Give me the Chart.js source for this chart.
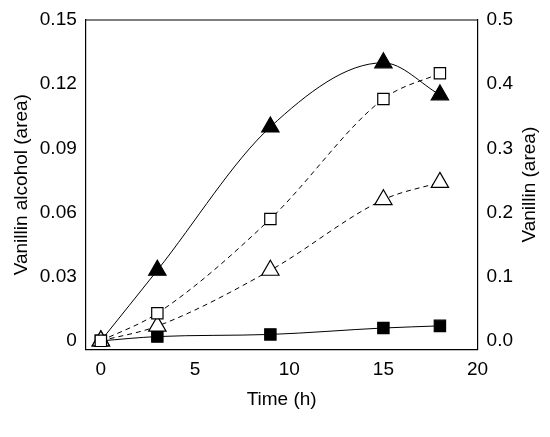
<!DOCTYPE html><html><head><script src="https://cdn.jsdelivr.net/npm/chart.js"></script>
<style>body{margin:0;background:#fff}#w{width:550px;height:437px}</style></head><body><div id="w"><canvas id="c"></canvas></div>
<script>
const time=[0,3,9,15,18];
const alcFilledTri=[0,0.033,0.100,0.130,0.115];
const alcFilledSq=[0,0.002,0.003,0.006,0.007];
const vanOpenSq=[0,0.043,0.19,0.377,0.417];
const vanOpenTri=[0,0.023,0.11,0.22,0.247];
const leftTicks=[0,0.03,0.06,0.09,0.12,0.15];
const rightTicks=[0,0.1,0.2,0.3,0.4,0.5];
const xy=a=>a.map((v,i)=>({x:time[i],y:v}));
const F='Arial, "Liberation Sans", sans-serif';
function ds(d,axis,style,fill,dash){return{data:xy(d),yAxisID:axis,pointStyle:style,pointRadius:style==='triangle'?10:8,pointBackgroundColor:fill?'#000':'#fff',pointBorderColor:'#000',pointBorderWidth:1.2,borderColor:'#000',borderWidth:1,borderDash:dash?[5,4]:[],tension:0.4,cubicInterpolationMode:'monotone',fill:false,showLine:true};}
new Chart(document.getElementById('c'),{type:'scatter',data:{datasets:[
ds(vanOpenSq,'y2','rect',false,true),ds(vanOpenTri,'y2','triangle',false,true),
ds(alcFilledTri,'y','triangle',true,false),ds(alcFilledSq,'y','rect',true,false)]},
options:{animation:false,responsive:true,maintainAspectRatio:false,layout:{padding:{top:20,right:34,left:6,bottom:22}},
plugins:{legend:{display:false},tooltip:{enabled:false}},
scales:{x:{min:-0.8,max:20,afterBuildTicks:s=>{s.ticks=[0,5,10,15,20].map(v=>({value:v}))},grid:{display:false,drawTicks:true,tickLength:6,color:'#000'},border:{color:'#000',width:1.2},ticks:{color:'#000',font:{family:F,size:19}},title:{display:true,text:'Time (h)',color:'#000',font:{family:F,size:19}}},
y:{position:'left',min:-0.004,max:0.15,afterBuildTicks:s=>{s.ticks=leftTicks.map(v=>({value:v}))},grid:{display:false,tickLength:6},border:{color:'#000',width:1.2},ticks:{color:'#000',font:{family:F,size:19},callback:v=>v===0?'0':String(+v.toFixed(2))},title:{display:true,text:'Vanillin alcohol (area)',color:'#000',font:{family:F,size:19}}},
y2:{position:'right',min:-0.0133,max:0.5,afterBuildTicks:s=>{s.ticks=rightTicks.map(v=>({value:v}))},grid:{display:false,tickLength:6},border:{color:'#000',width:1.2},ticks:{color:'#000',font:{family:F,size:19},callback:v=>v.toFixed(1)}}}},
plugins:[{id:'top',afterDraw(c){const a=c.chartArea,x=c.ctx;x.save();x.strokeStyle='#000';x.lineWidth=1.2;x.beginPath();x.moveTo(a.left,a.top);x.lineTo(a.right,a.top);x.stroke();
x.fillStyle='#000';x.font='19px '+F;x.textAlign='center';x.textBaseline='middle';x.translate(c.width-20,(a.top+a.bottom)/2);x.rotate(-Math.PI/2);x.fillText('Vanillin (area)',0,0);x.restore();}}]});
</script></body></html>
